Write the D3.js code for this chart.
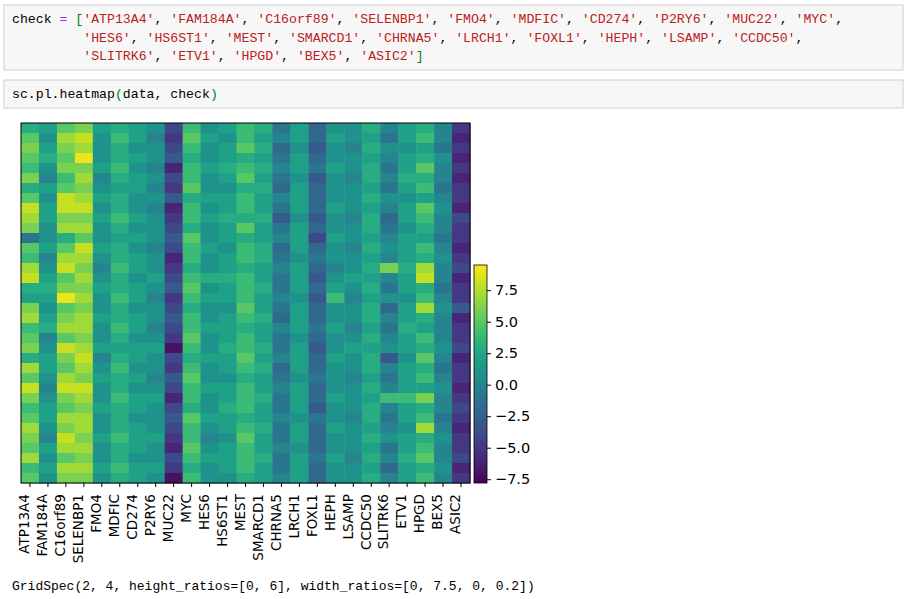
<!DOCTYPE html>
<meta charset="utf-8">
<head>
<script src="https://cdn.jsdelivr.net/npm/d3@7"></script>
<style>
body{margin:0;background:#fff;font-family:"DejaVu Sans",sans-serif}
text{white-space:pre}
</style>
</head>
<body>
<svg id="chart" width="905" height="599"></svg>
<script>
// gene names (columns)
var genes = ['ATP13A4','FAM184A','C16orf89','SELENBP1','FMO4','MDFIC','CD274','P2RY6','MUC22','MYC',
  'HES6','HS6ST1','MEST','SMARCD1','CHRNA5','LRCH1','FOXL1','HEPH','LSAMP','CCDC50',
  'SLITRK6','ETV1','HPGD','BEX5','ASIC2'];
// expression per gene, 36 binned cells (top to bottom)
var ATP13A4  = [3,5,6,5,4,6,3,5,8,7,6,-1,5,4,7,8,3,2,6,7,4,5,6,3,7,5,8,6,4,5,7,6,5,7,4,5];
var FAM184A  = [2,1,2,3,1,0,2,1,2,2,1,1,2,0,1,2,3,2,1,2,3,0,1,2,2,1,0,1,2,2,1,0,2,1,2,1];
var C16orf89 = [5,7,6,5,6,4,5,8,8,6,7,3,5,7,8,5,6,9,5,6,7,5,8,6,5,7,8,6,5,7,6,8,7,5,7,6];
var SELENBP1 = [6,8,7,9,6,7,6,7,8,6,7,5,8,7,6,7,6,7,6,7,7,6,7,8,7,6,8,7,6,7,7,6,7,6,7,6];
var FMO4     = [2,1,1,1,2,0,1,2,1,2,1,1,2,1,0,1,2,1,1,2,1,1,2,0,1,2,1,1,2,1,1,2,1,1,2,1];
var MDFIC    = [3,4,3,3,4,3,2,3,3,4,3,2,3,3,4,3,3,4,3,3,4,3,2,3,4,3,3,4,3,3,3,4,3,3,4,3];
var CD274    = [2,2,1,2,1,2,2,1,1,2,1,2,1,2,2,1,2,2,1,2,2,1,2,2,1,2,1,2,2,1,2,2,2,1,2,2];
var P2RY6    = [1,0,1,1,0,1,0,1,0,1,1,1,0,1,1,2,1,0,1,1,0,1,2,1,1,0,1,2,1,1,1,2,1,1,2,1];
var MUC22    = [-4,-5,-4,-3,-6,-4,-5,-3,-6,-5,-4,-3,-4,-6,-5,-4,-3,-5,-4,-3,-4,-5,-7,-4,-5,-3,-4,-6,-4,-3,-4,-5,-6,-4,-5,-7];
var MYC      = [4,5,4,3,4,4,5,3,4,4,3,5,4,4,3,4,5,4,3,4,4,5,4,3,4,5,4,4,3,5,4,4,5,4,3,4];
var HES6     = [1,2,1,1,2,1,1,2,1,2,1,1,2,1,1,3,1,2,1,1,2,1,1,2,1,1,2,1,1,2,1,0,1,2,1,1];
var HS6ST1   = [2,1,2,2,3,2,1,2,2,3,2,2,1,2,2,3,2,2,1,2,2,2,3,2,2,1,2,2,3,2,2,1,2,2,2,1];
var MEST     = [4,4,5,3,4,5,3,4,4,3,5,3,4,4,3,4,4,4,5,4,3,4,4,5,4,3,4,4,4,3,4,5,4,4,4,3];
var SMARCD1  = [3,2,3,2,3,2,3,2,2,3,2,2,3,3,2,2,3,2,2,3,2,2,3,2,3,2,2,3,2,2,3,2,2,3,2,2];
var CHRNA5   = [-1,0,-2,-1,0,-1,-2,0,-1,-3,-1,0,-2,-1,0,-1,-1,0,-1,-2,0,-1,-1,0,-2,-1,0,-1,-1,0,-1,-1,0,-1,-1,0];
var LRCH1    = [2,2,1,2,2,1,2,2,2,1,2,2,2,1,2,2,2,1,2,2,2,1,2,2,2,1,2,2,2,1,2,2,1,2,2,2];
var FOXL1    = [-2,-2,-3,-2,-1,-3,-2,-2,-2,-3,-2,-4,-2,-1,-2,-3,-2,-3,-2,-2,-1,-2,-3,-2,-2,-1,-2,-2,-3,-1,-2,-2,-2,-1,-2,-2];
var HEPH     = [1,2,1,1,2,1,1,1,2,1,1,2,1,1,0,1,2,4,1,1,2,1,1,2,1,1,1,2,1,1,2,1,1,2,1,1];
var LSAMP    = [1,1,0,1,1,0,1,1,1,0,1,1,0,1,1,2,1,0,1,1,0,1,2,1,1,0,1,1,1,0,1,1,1,0,1,1];
var CCDC50   = [3,2,3,2,3,3,2,3,2,3,3,2,3,2,3,2,3,2,3,3,2,3,2,3,3,2,3,2,3,3,2,3,2,3,2,3];
var SLITRK6  = [0,-1,1,0,-1,0,-1,1,0,-2,-1,0,1,0,6,0,-1,1,-2,0,-1,0,1,-3,0,-1,0,4,0,-1,0,1,-1,0,-2,0];
var ETV1     = [2,2,1,2,2,3,2,1,2,2,1,2,2,2,3,2,2,1,2,2,3,2,2,1,2,2,2,4,2,2,1,2,2,3,2,2];
var HPGD     = [3,4,2,3,5,3,4,2,5,4,3,2,4,3,7,8,3,4,7,3,2,4,3,5,3,4,2,6,3,4,7,3,4,5,3,4];
var BEX5     = [0,0,-1,1,0,0,-1,0,1,0,0,-1,0,1,0,0,-1,0,1,0,0,0,1,0,-1,0,1,0,0,-1,0,1,0,0,1,0];
var ASIC2    = [-5,-6,-5,-6,-5,-6,-5,-5,-6,-4,-5,-5,-6,-5,-4,-6,-5,-5,-3,-6,-5,-5,-4,-6,-5,-5,-6,-5,-4,-5,-6,-5,-5,-4,-6,-5];
var values = [ATP13A4,FAM184A,C16orf89,SELENBP1,FMO4,MDFIC,CD274,P2RY6,MUC22,MYC,HES6,HS6ST1,MEST,
  SMARCD1,CHRNA5,LRCH1,FOXL1,HEPH,LSAMP,CCDC50,SLITRK6,ETV1,HPGD,BEX5,ASIC2];
var cbTicks = [7.5,5.0,2.5,0.0,-2.5,-5.0,-7.5];
var vmin = -7.8, vmax = 9.5;

var svg = d3.select('#chart');

// code cells
function codeCell(y, h, lines){
  svg.append('rect').attr('x',4).attr('y',y).attr('width',899).attr('height',h)
    .attr('fill','#f7f7f7').attr('stroke','#cfcfcf');
  lines.forEach(function(l, i){
    var t = svg.append('text').attr('x',12).attr('y',y+18+i*18.5)
      .attr('font-family','"Liberation Mono","DejaVu Sans Mono",monospace').attr('font-size',13.2);
    l.forEach(function(p){ t.append('tspan').attr('fill',p[1]).text(p[0]); });
  });
}
var red = '#ba2121', blk = '#000', grn = '#008000', pur = '#aa22ff';
function quoted(list, last){
  var out = [];
  list.forEach(function(g, i){
    out.push(["'"+g+"'", red]);
    if(i < list.length-1 || !last) out.push([', ', blk]);
  });
  return out;
}
codeCell(5, 65, [
  [['check ', blk],['= ', pur],['[', grn]].concat(quoted(genes.slice(0,10))),
  [['         ', blk]].concat(quoted(genes.slice(10,20))),
  [['         ', blk]].concat(quoted(genes.slice(20), true)).concat([[']', grn]])
]);
codeCell(80, 28, [[['sc.pl.heatmap', blk],['(', grn],['data, check', blk],[')', grn]]]);

// heatmap
var mLeft = 21, mRight = 470, mTop = 123, mBottom = 483;
var nRows = ATP13A4.length;
var x = d3.scaleBand().domain(genes).range([mLeft, mRight]);
var y = d3.scaleBand().domain(d3.range(nRows)).range([mTop, mBottom]);
var color = d3.scaleSequential(d3.interpolateViridis).domain([vmin, vmax]);

genes.forEach(function(g, j){
  svg.append('g').selectAll('rect').data(values[j]).join('rect')
    .attr('x', x(g)).attr('y', function(d,i){ return y(i); })
    .attr('width', x.bandwidth()+0.5).attr('height', y.bandwidth()+0.5)
    .attr('fill', function(d){ return color(d); });
});
svg.append('rect').attr('x',mLeft).attr('y',mTop).attr('width',mRight-mLeft).attr('height',mBottom-mTop)
  .attr('fill','none').attr('stroke','#000').attr('stroke-width',1);

var xAxis = svg.append('g').attr('transform','translate(0,'+mBottom+')')
  .call(d3.axisBottom(x).tickSize(4).tickPadding(3));
xAxis.select('.domain').remove();
xAxis.selectAll('text').attr('font-size',13.5).attr('font-family','"DejaVu Sans",sans-serif')
  .attr('fill','#000').attr('transform','rotate(-90)').attr('text-anchor','end')
  .attr('dx','-0.6em').attr('dy','-0.35em').attr('x',-3).attr('y',4);

// colorbar
var cbx = 474, cbw = 13;
var cy = d3.scaleLinear().domain([vmin, vmax]).range([mBottom, 265]);
var defs = svg.append('defs');
var grad = defs.append('linearGradient').attr('id','cb').attr('x1',0).attr('y1',1).attr('x2',0).attr('y2',0);
d3.range(0,1.01,0.05).forEach(function(t){
  grad.append('stop').attr('offset',t).attr('stop-color',d3.interpolateViridis(t));
});
svg.append('rect').attr('x',cbx).attr('y',265).attr('width',cbw).attr('height',mBottom-265)
  .attr('fill','url(#cb)').attr('stroke','#000').attr('stroke-width',0.8);
var cAxis = svg.append('g').attr('transform','translate('+(cbx+cbw)+',0)')
  .call(d3.axisRight(cy).tickValues(cbTicks).tickFormat(d3.format('.1f')).tickSize(4).tickPadding(4));
cAxis.select('.domain').remove();
cAxis.selectAll('text').attr('font-size',14.5).attr('font-family','"DejaVu Sans",sans-serif').attr('fill','#000')
  .text(function(d){ return d3.format('.1f')(d).replace('-','\u2212'); });

svg.append('text').attr('x',12).attr('y',590)
  .attr('font-family','"Liberation Mono","DejaVu Sans Mono",monospace').attr('font-size',13)
  .text('GridSpec(2, 4, height_ratios=[0, 6], width_ratios=[0, 7.5, 0, 0.2])');
</script>
</body>
